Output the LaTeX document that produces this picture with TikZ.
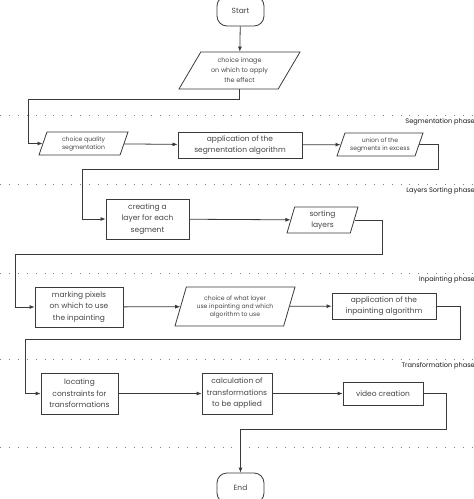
\documentclass[tikz,border=0pt]{standalone}
\usepackage{fontspec}
\setmainfont{Poppins}
\usetikzlibrary{shapes.geometric, arrows.meta, positioning}
\definecolor{linegrey}{HTML}{3A3A3A}
\definecolor{textgrey}{HTML}{454545}

\begin{document}
\begin{tikzpicture}[x=1pt, y=-1pt,
                box/.style={draw=linegrey, line width=0.8pt, rectangle, align=center, text=textgrey, inner sep=1pt, font=\fontsize{7.5}{11.5}\selectfont},
                io/.style={draw=linegrey, line width=0.8pt, trapezium, trapezium stretches body, align=center, text=textgrey, inner sep=1pt},
                term/.style={draw=linegrey, line width=0.8pt, rectangle, rounded corners=10pt, text=textgrey, font=\fontsize{7.5}{11.5}\selectfont},
                smalltext/.style={font=\fontsize{6.1}{8}\selectfont},
                midtext/.style={font=\fontsize{6.4}{10}\selectfont},
                flow/.style={draw=linegrey, line width=0.8pt, -{Latex[length=5pt, width=4pt]}},
                phase/.style={draw=gray, line width=0.8pt, dash pattern=on 0.9pt off 8pt},
                phaselabel/.style={anchor=east, inner sep=0pt, text=black!90, font=\fontsize{6.6}{8}\selectfont}
            ]
            \useasboundingbox (0,0) rectangle (474,499);

            % Phasen
            \foreach \y in {115,184,273,359,447}
                \draw[phase] (0,\y) -- (474,\y);
            \node[phaselabel] (lseg) at (475,122) {Segmentation phase};
            \node[phaselabel] (lsort) at (475,191) {Layers Sorting phase};
            \node[phaselabel] (linp) at (475,280) {Inpainting phase};
            \node[phaselabel] (ltrans) at (475,366) {Transformation phase};

            % Knoten
            \node[term, minimum width=47pt, minimum height=30pt] (start) at (240.5,11) {Start};
            \node[io, midtext, trapezium left angle=51, trapezium right angle=129, minimum width=121pt, minimum height=37pt] (image) at (239.5,70.5) {choice image\\on which to apply\\the effect};

            \node[io, smalltext, trapezium left angle=64, trapezium right angle=116, minimum width=89pt, minimum height=23pt] (quality) at (83.5,143.5) {choice quality\\segmentation};
            \node[box, minimum width=124pt, minimum height=26pt] (segalgo) at (240,145) {application of the\\segmentation algorithm};
            \node[io, smalltext, trapezium left angle=64, trapezium right angle=116, minimum width=86pt, minimum height=23pt] (union) at (380,144.5) {union of the\\segments in excess};

            \node[box, minimum width=83pt, minimum height=40pt] (layer) at (147.5,219) {creating a\\layer for each\\segment};
            \node[io, font=\fontsize{7.5}{11.5}\selectfont, trapezium left angle=70, trapezium right angle=110, minimum width=71pt, minimum height=26pt] (sorting) at (322.5,220) {sorting\\layers};

            \node[box, minimum width=88pt, minimum height=40pt] (marking) at (79,307) {marking pixels\\on which to use\\the inpainting};
            \node[io, smalltext, trapezium left angle=65, trapezium right angle=115, minimum width=120pt, minimum height=39pt] (choice) at (235,306.5) {choice of what layer\\use inpainting and which\\algorithm to use};
            \node[box, minimum width=104pt, minimum height=26pt] (inpalgo) at (384,306) {application of the\\inpainting algorithm};

            \node[box, minimum width=77pt, minimum height=41pt] (locating) at (79.5,393.5) {locating\\constraints for\\transformations};
            \node[box, minimum width=70pt, minimum height=41pt] (calc) at (237,393.5) {calculation of\\transformations\\to be applied};
            \node[box, minimum width=80pt, minimum height=23pt] (video) at (383,393.5) {video creation};

            \node[term, minimum width=47pt, minimum height=30pt] (end) at (240.5,488) {End};

            % Knickpunkte
            \coordinate (b1) at (28,99);
            \coordinate (b2) at (438,169);
            \coordinate (b3) at (82,169);
            \coordinate (b4) at (382,254);
            \coordinate (b5) at (15,254);
            \coordinate (b6) at (460,339);
            \coordinate (b7) at (25,339);
            \coordinate (b8) at (446,429);
            \coordinate (b9) at (end.north |- b8);

            % Kanten zwischen Knoten
            \draw[flow] (start) -- (image);
            \draw[flow] (image.south) |- (b1) |- (quality.west);
            \draw[flow] (quality) -- (segalgo);
            \draw[flow] (segalgo) -- (union);
            \draw[flow] (union.east) -| (b2) -- (b3) |- (layer.west);
            \draw[flow] (layer) -- (sorting);
            \draw[flow] (sorting.east) -| (b4) -- (b5) |- (marking.west);
            \draw[flow] (marking) -- (choice);
            \draw[flow] (choice) -- (inpalgo);
            \draw[flow] (inpalgo.east) -| (b6) -- (b7) |- (locating.west);
            \draw[flow] (locating) -- (calc);
            \draw[flow] (calc) -- (video);
            \draw[flow] (video.east) -| (b8) -- (b9) -- (end.north);

        \end{tikzpicture}
\end{document}
